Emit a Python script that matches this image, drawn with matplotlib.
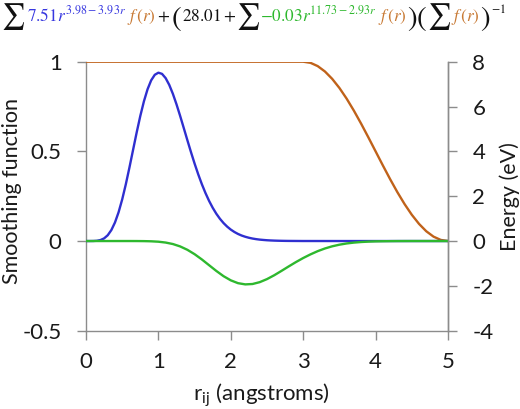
import matplotlib
matplotlib.use("Agg")
import matplotlib.pyplot as plt

r_vals = [0.0, 0.1, 0.2, 0.3, 0.4, 0.5, 0.6, 0.7, 0.8, 0.9,
          1.0, 1.1, 1.2, 1.3, 1.4, 1.5, 1.6, 1.7, 1.8, 1.9,
          2.0, 2.1, 2.2, 2.3, 2.4, 2.5, 2.6, 2.7, 2.8, 2.9,
          3.0, 3.1, 3.2, 3.3, 3.4, 3.5, 3.6, 3.7, 3.8, 3.9,
          4.0, 4.1, 4.2, 4.3, 4.4, 4.5, 4.6, 4.7, 4.8, 4.9, 5.0]

# blue peak is sharp, so it is read on a finer grid
r_blue = [0.0, 0.05, 0.1, 0.15, 0.2, 0.25, 0.3, 0.35, 0.4, 0.45,
          0.5, 0.55, 0.6, 0.65, 0.7, 0.75, 0.8, 0.85, 0.9, 0.95,
          1.0, 1.05, 1.1, 1.15, 1.2, 1.25, 1.3, 1.35, 1.4, 1.45,
          1.5, 1.55, 1.6, 1.65, 1.7, 1.75, 1.8, 1.85, 1.9, 1.95,
          2.0, 2.05, 2.1, 2.15, 2.2, 2.25, 2.3, 2.35, 2.4, 2.45,
          2.5, 2.55, 2.6, 2.65, 2.7, 2.75, 2.8, 2.85, 2.9, 2.95,
          3.0, 3.5, 4.0, 4.5, 5.0]

# repulsive energy (eV), right axis
blue_energy = [0.0, 0.0001, 0.002, 0.012, 0.044, 0.118, 0.258, 0.488, 0.827, 1.284,
               1.858, 2.532, 3.280, 4.064, 4.845, 5.580, 6.232, 6.769, 7.168, 7.416,
               7.510, 7.457, 7.268, 6.965, 6.567, 6.099, 5.585, 5.045, 4.500, 3.966,
               3.455, 2.977, 2.538, 2.143, 1.791, 1.484, 1.218, 0.992, 0.801, 0.642,
               0.510, 0.403, 0.315, 0.245, 0.190, 0.146, 0.111, 0.084, 0.063, 0.048,
               0.035, 0.026, 0.019, 0.014, 0.010, 0.007, 0.005, 0.004, 0.003, 0.002,
               0.001, 0.0, 0.0, 0.0, 0.0]

# attractive energy (eV), right axis
green_energy = [0.0, 0.0, 0.0, 0.0, 0.0, 0.0, 0.0, -0.001, -0.004, -0.012,
                -0.030, -0.068, -0.134, -0.240, -0.391, -0.587, -0.821, -1.078, -1.334, -1.568,
                -1.754, -1.880, -1.934, -1.917, -1.834, -1.698, -1.526, -1.332, -1.132, -0.938,
                -0.758, -0.596, -0.452, -0.332, -0.236, -0.163, -0.108, -0.070, -0.044, -0.026,
                -0.015, -0.009, -0.005, -0.002, -0.001, 0.0, 0.0, 0.0, 0.0, 0.0, 0.0]

# smoothing function f(r), left axis
cutoff = [1.0, 1.0, 1.0, 1.0, 1.0, 1.0, 1.0, 1.0, 1.0, 1.0,
          1.0, 1.0, 1.0, 1.0, 1.0, 1.0, 1.0, 1.0, 1.0, 1.0,
          1.0, 1.0, 1.0, 1.0, 1.0, 1.0, 1.0, 1.0, 1.0, 1.0,
          1.0, 0.9938, 0.9755, 0.9455, 0.9045, 0.8536, 0.7939, 0.7270, 0.6545, 0.5782,
          0.5, 0.4218, 0.3455, 0.2730, 0.2061, 0.1464, 0.0955, 0.0545, 0.0245, 0.0062, 0.0]

left_ticks = [-0.5, 0, 0.5, 1]
left_labels = ["-0.5", "0", "0.5", "1"]
right_ticks = [-4, -2, 0, 2, 4, 6, 8]
right_labels = ["-4", "-2", "0", "2", "4", "6", "8"]
x_ticks = [0, 1, 2, 3, 4, 5]

plt.rcParams['font.family'] = ['Lato', 'DejaVu Sans']
plt.rcParams['mathtext.fontset'] = 'stix'

W, H = 520, 409
fig = plt.figure(figsize=(W / 100, H / 100), dpi=100)
ax = fig.add_axes([86 / W, 1 - 330.7 / H, 362 / W, 269 / H])
ax2 = ax.twinx()

c_blue = '#2F2FD0'
c_green = '#2EB82E'
c_orange = '#C0621A'
grey = '#8C8C8C'
txt = '#1a1a1a'

ax.plot(r_vals, cutoff, color=c_orange, lw=1.7, zorder=3)
ax2.plot(r_blue, blue_energy, color=c_blue, lw=1.7)
ax2.plot(r_vals, green_energy, color=c_green, lw=1.7)

ax.set_xlim(0, 5)
ax.set_ylim(-0.5, 1)
ax2.set_ylim(-4, 8)
ax.set_xticks(x_ticks)
ax.set_yticks(left_ticks)
ax.set_yticklabels(left_labels)
ax2.set_yticks(right_ticks)
ax2.set_yticklabels(right_labels)

for a in (ax, ax2):
    a.spines['top'].set_visible(False)
    for s in a.spines.values():
        s.set_color(grey)
        s.set_linewidth(1.0)
    a.tick_params(direction='out', length=6.5, width=1.0, color=grey,
                  labelsize=16, pad=11, labelcolor=txt)
ax.tick_params(axis='x', pad=9)
ax2.spines['left'].set_visible(False)
ax2.spines['bottom'].set_visible(False)

ax.set_ylabel("Smoothing function", fontsize=15.5, color=txt)
ax.yaxis.set_label_coords(-0.176, 0.52)
ax2.set_ylabel("Energy (eV)", fontsize=15.5, color=txt, rotation=90)
ax2.yaxis.set_label_coords(1.142, 0.5)
ax.set_xlabel(r"r$_\mathregular{ij}$ (angstroms)", fontsize=16, color=txt)
ax.xaxis.set_label_coords(0.485, -0.19)

# multi-coloured formula on top
t_black = '#111111'
t_blue = '#3838E0'
t_green = '#2EB82E'
t_orange = '#C87A35'
fs = 12.4
pieces = [
    (r"$\sum$", t_black, 18.5, 2, 2),
    (r"$7.51r^{3.98-3.93r}$", t_blue, fs, 0, 1),
    (r"$f\,(r)$", t_orange, fs, 0, 1),
    (r"$+$", t_black, fs, 0, 1),
    (r"$($", t_black, 21, 5, 0),
    (r"$28.01+$", t_black, fs, 0, 0),
    (r"$\sum$", t_black, 18.5, 2, 0),
    (r"$-0.03r^{11.73-2.93r}$", t_green, fs, 0, 1),
    (r"$f\,(r)$", t_orange, fs, 0, 0),
    (r"$)($", t_black, 21, 5, 0),
    (r"$\sum$", t_black, 18.5, 2, 0),
    (r"$f\,(r)$", t_orange, fs, 0, 0),
    (r"$)$", t_black, 21, 5, 1),
    (r"${}^{-1}$", t_black, fs, -3, 0),
]
renderer = fig.canvas.get_renderer()
x = 1.0
base = 21.0
for s, col, size, dy, gap in pieces:
    t = fig.text(x / W, 1 - (base + dy) / H, s, color=col, fontsize=size,
                 ha='left', va='baseline')
    bb = t.get_window_extent(renderer)
    x += bb.width + gap

fig.savefig("out.png", dpi=100)
